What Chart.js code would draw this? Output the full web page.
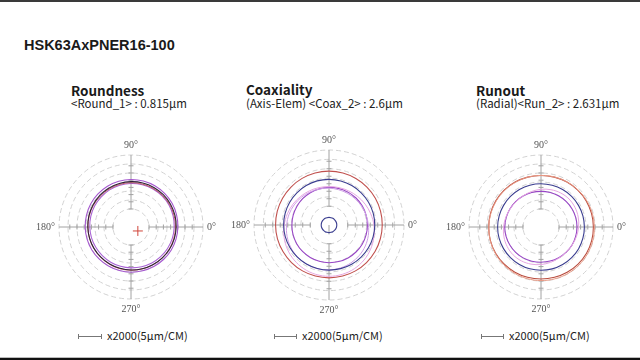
<!DOCTYPE html>
<html>
<head>
<meta charset="utf-8">
<script src="https://cdn.jsdelivr.net/npm/chart.js@4.4.1/dist/chart.umd.min.js"></script>
<style>
  html, body { margin: 0; padding: 0; background: #fff; }
  body { width: 640px; height: 360px; position: relative; overflow: hidden; }
  .edge-top { position: absolute; left: 0; top: 0; width: 640px; height: 2px; background: #3a3a3a; }
  .edge-bot { position: absolute; left: 0; top: 357px; width: 640px; height: 3px; background: #111; border-top: 1px solid #bbb; }
  .t { position: absolute; white-space: nowrap; color: #1a1a1a; }
  .main { left: 24px; top: 36px; font: bold 14.5px/18px "Liberation Sans", Arial, sans-serif; }
  .head { font: 600 13.5px/16px "Noto Sans CJK SC", "Noto Sans", sans-serif; }
  .sub { font: 400 11.5px/14px "Noto Sans CJK SC", "Noto Sans", sans-serif; color: #222; }
  .scale { font: 400 11px/14px "Noto Sans CJK SC", "Noto Sans", sans-serif; color: #222; }
  .bar { position: absolute; height: 0; border-top: 1px solid #777; }
  .bar::before, .bar::after { content: ""; position: absolute; top: -3px; width: 0; height: 5px; border-left: 1px solid #777; }
  .bar::before { left: 0; }
  .bar::after { right: 0; }
  canvas { position: absolute; }
</style>
</head>
<body>
<div class="edge-top"></div>
<div class="edge-bot"></div>

<div class="t main">HSK63AxPNER16-100</div>

<div class="t head" style="left:71px;top:82px">Roundness</div>
<div class="t sub" style="left:71px;top:96px">&lt;Round_1&gt; : 0.815μm</div>
<div class="t head" style="left:246px;top:81px">Coaxiality</div>
<div class="t sub" style="left:246px;top:96px">(Axis-Elem) &lt;Coax_2&gt; : 2.6μm</div>
<div class="t head" style="left:476px;top:82px">Runout</div>
<div class="t sub" style="left:476px;top:96px">(Radial)&lt;Run_2&gt; : 2.631μm</div>

<canvas id="c1" width="190" height="190" style="left:31px;top:132px"></canvas>
<canvas id="c2" width="196" height="196" style="left:226px;top:127px"></canvas>
<canvas id="c3" width="190" height="190" style="left:441px;top:132px"></canvas>

<div class="bar" style="left:78px;top:336px;width:24px"></div>
<div class="t scale" style="left:107px;top:328px">x2000(5μm/CM)</div>
<div class="bar" style="left:274px;top:336px;width:23px"></div>
<div class="t scale" style="left:302px;top:328px">x2000(5μm/CM)</div>
<div class="bar" style="left:481px;top:336px;width:23px"></div>
<div class="t scale" style="left:509px;top:328px">x2000(5μm/CM)</div>

<script>
// angles in degrees, counter-clockwise from 0° (right), 90° at the top
const angles = [0, 15, 30, 45, 60, 75, 90, 105, 120, 135, 150, 165,
                180, 195, 210, 225, 240, 255, 270, 285, 300, 315, 330, 345];
const axisLabels = [0, 90, 180, 270];

// radius values (scale units, 8 = outer ring), one per angle above
// Roundness
const roundOuter = [5.21, 5.24, 5.27, 5.28, 5.29, 5.29, 5.28, 5.26, 5.23, 5.19, 5.16, 5.12,
                    5.09, 5.06, 5.04, 5.02, 5.01, 5.01, 5.02, 5.04, 5.07, 5.11, 5.15, 5.18];
const roundDark  = [5.02, 5.05, 5.07, 5.08, 5.08, 5.07, 5.04, 5.01, 4.97, 4.93, 4.88, 4.84,
                    4.80, 4.77, 4.75, 4.74, 4.74, 4.75, 4.78, 4.81, 4.85, 4.89, 4.94, 4.98];
const roundRed   = [4.94, 4.95, 4.96, 4.95, 4.94, 4.93, 4.92, 4.89, 4.87, 4.84, 4.82, 4.80,
                    4.78, 4.77, 4.77, 4.77, 4.78, 4.79, 4.80, 4.82, 4.85, 4.87, 4.90, 4.92];
const roundInner = [4.80, 4.84, 4.87, 4.88, 4.88, 4.86, 4.84, 4.80, 4.76, 4.71, 4.67, 4.62,
                    4.58, 4.55, 4.52, 4.51, 4.51, 4.52, 4.54, 4.57, 4.62, 4.66, 4.71, 4.76];
const roundCenter = [null, null, null, null, null, null, null, null, null, null, null, null,
                     null, null, null, null, null, null, null, null, null, null, 0.88, null];

// Coaxiality
const coaxRed    = [5.68, 5.69, 5.71, 5.72, 5.73, 5.74, 5.75, 5.75, 5.74, 5.73, 5.72, 5.71,
                    5.70, 5.69, 5.67, 5.66, 5.65, 5.64, 5.64, 5.64, 5.65, 5.66, 5.67, 5.67];
const coaxNavy   = [4.88, 4.88, 4.87, 4.86, 4.86, 4.86, 4.87, 4.87, 4.86, 4.85, 4.84, 4.84,
                    4.84, 4.83, 4.82, 4.81, 4.81, 4.81, 4.81, 4.82, 4.84, 4.85, 4.86, 4.87];
const coaxPurple = [4.10, 4.10, 4.09, 4.07, 4.05, 4.03, 4.01, 3.99, 3.98, 3.97, 3.96, 3.96,
                    3.96, 3.97, 3.98, 3.99, 4.00, 4.01, 4.02, 4.04, 4.06, 4.07, 4.09, 4.10];
const coaxPink   = [4.79, 4.61, 4.45, 4.31, 4.20, 4.13, 4.10, 4.13, 4.20, 4.30, 4.44, 4.60,
                    4.78, 4.96, 5.13, 5.27, 5.38, 5.45, 5.47, 5.45, 5.39, 5.28, 5.13, 4.96];
const coaxLilac  = [4.20, 4.10, 4.01, 3.95, 3.91, 3.90, 3.93, 3.98, 4.06, 4.17, 4.29, 4.41,
                    4.52, 4.63, 4.72, 4.78, 4.81, 4.82, 4.79, 4.74, 4.67, 4.58, 4.47, 4.34];
const coaxAxis   = [0.83, 0.83, 0.82, 0.82, 0.82, 0.81, 0.81, 0.81, 0.82, 0.82, 0.83, 0.83,
                    0.83, 0.83, 0.82, 0.82, 0.82, 0.81, 0.81, 0.81, 0.82, 0.82, 0.83, 0.83];

// Runout
const runRed     = [5.82, 5.81, 5.80, 5.78, 5.76, 5.74, 5.73, 5.74, 5.76, 5.78, 5.80, 5.81,
                    5.81, 5.82, 5.82, 5.81, 5.80, 5.79, 5.78, 5.79, 5.81, 5.83, 5.84, 5.83];
const runOrange  = [5.93, 5.90, 5.86, 5.82, 5.78, 5.75, 5.73, 5.72, 5.72, 5.73, 5.75, 5.77,
                    5.80, 5.83, 5.86, 5.89, 5.92, 5.94, 5.95, 5.96, 5.97, 5.97, 5.96, 5.95];
const runNavy    = [4.82, 4.82, 4.81, 4.81, 4.80, 4.80, 4.81, 4.81, 4.80, 4.80, 4.80, 4.81,
                    4.82, 4.82, 4.81, 4.80, 4.80, 4.81, 4.81, 4.82, 4.82, 4.82, 4.83, 4.82];
const runPurple  = [4.00, 4.00, 3.99, 3.98, 3.97, 3.96, 3.96, 3.96, 3.97, 3.98, 3.99, 4.01,
                    4.03, 4.02, 4.00, 3.98, 3.96, 3.93, 3.91, 3.92, 3.94, 3.96, 3.98, 3.99];
const runPink    = [4.18, 4.28, 4.36, 4.40, 4.37, 4.29, 4.19, 4.08, 3.99, 3.95, 3.98, 4.06,
                    4.16, 4.26, 4.34, 4.38, 4.35, 4.27, 4.17, 4.07, 3.99, 3.96, 4.00, 4.08];

const scaleMax = 8;
const axisFrom = 2;

// radar runs clockwise from the first label, so reorder counter-clockwise lists
function cw(arr) { return [arr[0]].concat(arr.slice(1).reverse()); }

const crossAxes = {
  id: 'crossAxes',
  beforeDatasetsDraw(chart, args, opts) {
    const r = chart.scales.r;
    const ctx = chart.ctx;
    const d0 = r.getDistanceFromCenterForValue(axisFrom);
    const d1 = r.getDistanceFromCenterForValue(scaleMax);
    ctx.save();
    ctx.strokeStyle = '#a2a2a2';
    ctx.lineWidth = 1;
    ctx.beginPath();
    axisLabels.forEach(deg => {
      const a = -deg * Math.PI / 180;
      const c = Math.cos(a), s = Math.sin(a);
      ctx.moveTo(r.xCenter + c * d0, r.yCenter + s * d0);
      ctx.lineTo(r.xCenter + c * d1, r.yCenter + s * d1);
      for (let v = axisFrom; v <= scaleMax - 0.5; v += 0.8) {
        const d = r.getDistanceFromCenterForValue(v);
        const x = r.xCenter + c * d, y = r.yCenter + s * d;
        ctx.moveTo(x - s * 2.5, y + c * 2.5);
        ctx.lineTo(x + s * 2.5, y - c * 2.5);
      }
    });
    if (opts.stem) {
      const d = r.getDistanceFromCenterForValue(opts.stem);
      ctx.moveTo(r.xCenter, r.yCenter);
      ctx.lineTo(r.xCenter, r.yCenter + d);
    }
    ctx.stroke();
    ctx.restore();
  }
};

function line(data, color, width) {
  return {
    data: cw(data), borderColor: color, borderWidth: width || 1.1,
    fill: false, pointRadius: 0, pointHoverRadius: 0, tension: 0.35
  };
}

function makeChart(id, datasets, stem) {
  new Chart(document.getElementById(id), {
    type: 'radar',
    data: { labels: cw(angles), datasets: datasets },
    options: {
      responsive: false,
      animation: false,
      events: [],
      layout: { padding: 0 },
      plugins: { legend: { display: false }, tooltip: { enabled: false }, crossAxes: { stem: stem } },
      scales: {
        r: {
          min: 0, max: scaleMax, startAngle: 90,
          ticks: { display: false, stepSize: 1 },
          grid: {
            circular: true, lineWidth: 1,
            color: ctx => (ctx.tick && ctx.tick.value >= axisFrom) ? '#d2d2d2' : 'transparent'
          },
          border: { dash: [5, 3] },
          angleLines: { display: false },
          pointLabels: {
            display: true, padding: 4, color: '#555',
            font: { family: '"Liberation Serif", "DejaVu Serif", serif', size: 10 },
            callback: v => axisLabels.includes(v) ? v + '°' : ''
          }
        }
      }
    },
    plugins: [crossAxes]
  });
}

makeChart('c1', [
  line(roundOuter, '#a557cf'),
  line(roundDark, '#2e1f3a'),
  line(roundRed, '#c0504d', 0.9),
  line(roundInner, '#a862d4'),
  { data: cw(roundCenter), showLine: false, pointStyle: 'cross', pointRadius: 5,
    pointBorderColor: '#d0463a', pointBorderWidth: 1, pointHoverRadius: 0 }
]);

makeChart('c2', [
  line(coaxRed, '#c0504d'),
  line(coaxNavy, '#3a3d8f'),
  line(coaxPink, '#e6a6e2', 1),
  line(coaxLilac, '#cf9fe6', 1),
  line(coaxPurple, '#9846c6'),
  line(coaxAxis, '#3a3d8f')
], 1);

makeChart('c3', [
  line(runOrange, '#e89a85', 1),
  line(runRed, '#b94d3f'),
  line(runNavy, '#3a3d8f'),
  line(runPink, '#e6a6e2', 1),
  line(runPurple, '#9846c6')
]);
</script>
</body>
</html>
